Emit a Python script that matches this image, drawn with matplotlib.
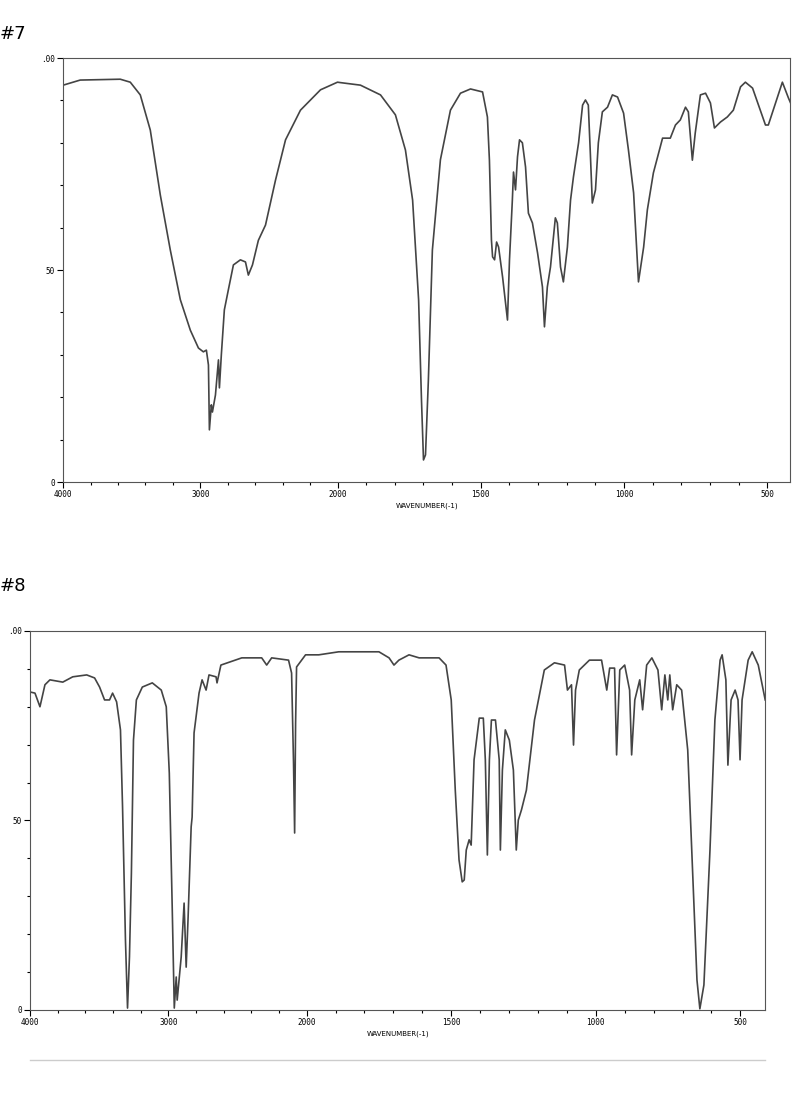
import numpy as np
import matplotlib
matplotlib.use("Agg")
import matplotlib.pyplot as plt
from matplotlib.ticker import FixedLocator

# Spectrum #7 (wavenumber cm-1, %T)
w7 = [4000,3876,3584,3511,3438,3365,3292,3219,3146,3073,3014,2978,2956,2941,2934,2920,2912,2890,2868,2861,2847,2825,2796,2759,2708,2671,2650,2620,2577,2525,2452,2379,2270,2124,2000,1990,1920,1850,1798,1763,1738,1717,1707,1700,1693,1683,1669,1641,1606,1571,1536,1494,1477,1470,1463,1459,1452,1445,1438,1424,1407,1400,1390,1386,1379,1372,1365,1355,1344,1334,1320,1302,1285,1278,1268,1257,1240,1233,1222,1212,1198,1187,1177,1159,1145,1135,1125,1118,1111,1100,1090,1076,1058,1041,1023,1002,985,967,950,932,919,898,866,839,821,804,786,776,762,752,734,716,699,685,664,640,619,594,577,552,507,497,448,427,420]
t7 = [93.6,94.8,95,94.3,91.3,83,67.7,54.7,43,35.8,31.6,30.7,31.1,27.6,12.3,18.2,16.5,20.5,28.8,22.2,30,40.6,45.3,51.2,52.4,51.9,48.8,51.2,57,60.6,71.2,80.7,87.7,92.5,94.3,94.2,93.6,91.3,86.6,78.3,66.5,42.9,19.3,5.2,6.4,24,54.7,76,87.7,91.7,92.7,92,86.1,75.9,57.1,53.1,52.4,56.6,55.4,48.3,38.2,52.4,66.5,73.1,68.9,76.7,80.7,80,74.3,63.4,61.1,54,46,36.6,46,50.7,62.3,61.1,50.7,47.2,55.4,66.5,71.9,80,88.9,90.1,88.9,77.6,65.8,68.9,80,87.3,88.4,91.3,90.8,87,78.3,68.2,47.2,55.4,64.2,72.9,81.1,81.1,84.2,85.4,88.4,87.3,75.9,82.3,91.3,91.7,89.4,83.5,84.9,86.1,87.7,93.2,94.3,92.9,84.2,84.2,94.3,90.6,89.5]

# Spectrum #8
w8 = [4000,3964,3928,3892,3856,3763,3691,3590,3533,3497,3461,3425,3403,3374,3346,3331,3310,3295,3281,3267,3252,3231,3188,3116,3051,3015,2993,2972,2957,2943,2936,2907,2886,2871,2857,2835,2828,2814,2778,2756,2727,2706,2655,2648,2620,2469,2325,2289,2253,2131,2109,2095,2087,2080,2073,2008,1958,1889,1750,1715,1698,1681,1646,1611,1542,1518,1500,1486,1473,1462,1455,1448,1438,1431,1421,1403,1389,1382,1375,1368,1361,1347,1334,1330,1323,1313,1299,1285,1275,1268,1257,1240,1212,1178,1143,1108,1098,1084,1077,1070,1057,1022,980,962,952,935,928,917,900,883,876,865,848,838,824,806,785,772,761,751,744,734,720,703,682,668,650,640,626,605,588,570,563,550,543,532,518,508,501,494,473,459,438,414]
t8 = [83.9,83.6,80,85.8,87.1,86.5,87.9,88.4,87.6,85.2,81.8,81.8,83.6,81.3,73.9,53.6,18.5,0.5,14,36.1,71.2,81.8,85.2,86.3,84.4,80,62.5,27.2,0.5,8.7,2.6,14,28.2,11.3,24.5,48.3,50.9,73.1,83.6,87.1,84.4,88.4,87.9,86.3,91,92.9,92.9,91,92.9,92.3,88.9,65.2,46.7,75.7,90.5,93.7,93.7,94.5,94.5,92.9,91,92.3,93.7,92.9,92.9,91,81.8,58,39.6,33.8,34.3,42.2,44.9,43.5,66,77,77,66,40.9,66,76.5,76.5,66,42.2,63.3,73.9,71.2,63.3,42.2,50.1,52.8,58,76.5,89.7,91.6,91,84.4,85.8,69.9,84.4,89.7,92.3,92.3,84.4,90.2,90.2,67.3,89.7,91,84.4,67.3,81.8,87.1,79.2,91,92.9,89.7,79.2,88.4,81.8,88.4,79.2,85.8,84.4,68.6,42.2,7.9,0.3,6.6,42.2,76.5,92.3,93.7,87.1,64.6,81.8,84.4,81.8,66,81.8,92.3,94.5,91,81.8]

xticks = [4000, 3000, 2000, 1500, 1000, 500]
xlabels = ["4000", "3000", "2000", "1500", "1000", "500"]
yticks = [0, 50, 100]
ylabels = ["0", "50", ".00"]

R = 2.09
def fwd(w):
    w = np.asarray(w, dtype=float)
    return np.where(w >= 2000, w, 2000 - (2000 - w) * R)
def inv(u):
    u = np.asarray(u, dtype=float)
    return np.where(u >= 2000, u, 2000 - (2000 - u) / R)

fig = plt.figure(figsize=(8, 11.05), dpi=100)

def panel(rect, w, t, xmax_end, title, ty):
    ax = fig.add_axes(rect)
    ax.set_xscale('function', functions=(fwd, inv))
    ax.plot(w, t, color='#444444', lw=1.2)
    ax.set_xlim(4000, xmax_end)
    ax.set_ylim(0, 100)
    ax.xaxis.set_major_locator(FixedLocator(xticks))
    ax.set_xticklabels(xlabels, fontsize=5.5, family='DejaVu Sans Mono')
    minors = list(range(3800, 2000, -200)) + list(range(1900, 400, -100))
    ax.xaxis.set_minor_locator(FixedLocator(minors))
    ax.yaxis.set_major_locator(FixedLocator(yticks))
    ax.set_yticklabels(ylabels, fontsize=5.5, family='DejaVu Sans Mono')
    ax.yaxis.set_minor_locator(FixedLocator(list(range(10, 100, 10))))
    ax.tick_params(which='major', length=4, width=0.8, pad=2)
    ax.tick_params(which='minor', length=2.5, width=0.8)
    for s in ax.spines.values():
        s.set_color('#555555')
    ax.set_xlabel("WAVENUMBER(-1)", fontsize=5, labelpad=2)
    fig.text(0.0, ty, title, fontsize=13, va='center', ha='left')
    return ax

panel([0.079, 0.5638, 0.909, 0.3837], w7, t7, 420, "#7", 0.969)
panel([0.0375, 0.086, 0.919, 0.343], w8, t8, 414, "#8", 0.470)

fig.add_artist(plt.Line2D([0.0375, 0.956], [0.0407, 0.0407], color='#cccccc', lw=1))
fig.savefig("out.png", dpi=100)
